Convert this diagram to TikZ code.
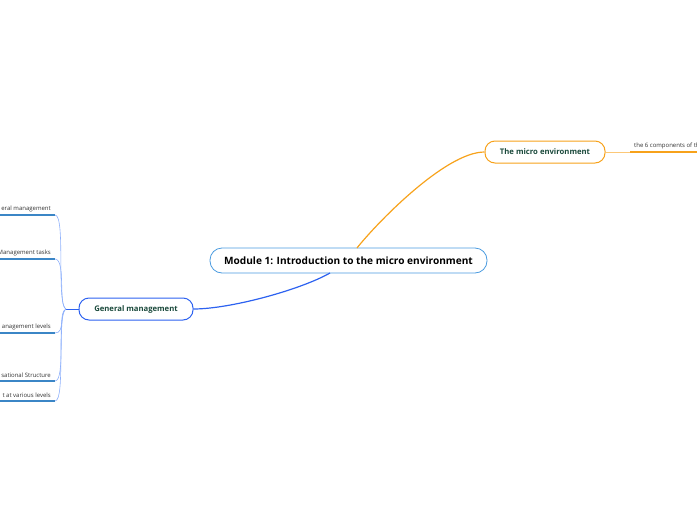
\documentclass[tikz,border=0pt]{standalone}
\usepackage{fontspec}
\setmainfont{Open Sans}
\definecolor{rootblue}{HTML}{4A9BE0}
\definecolor{gmblue}{HTML}{2D62F0}
\definecolor{microorange}{HTML}{F7A21B}
\definecolor{paleorange}{HTML}{FCC878}
\definecolor{topicgreen}{HTML}{1B4A3C}
\definecolor{leafblue}{HTML}{3B86C6}
\definecolor{twigblue}{HTML}{8FB1FB}
\definecolor{leafgray}{HTML}{333333}
\begin{document}
\begin{tikzpicture}[x=1pt,y=-1pt,
  root/.style={draw=rootblue, line width=0.8pt, rounded corners=12pt, fill=white,
    minimum width=277pt, minimum height=25pt, inner sep=0pt,
    font=\fontsize{10.1}{12}\selectfont\bfseries},
  topic/.style={draw=#1, line width=1pt, rounded corners=10pt, fill=white,
    minimum height=22pt, inner sep=0pt, text=topicgreen,
    font=\fontsize{7.7}{9}\selectfont\bfseries},
  leaf/.style={anchor=south east, inner sep=0pt, text=leafgray,
    font=\fontsize{6}{7}\selectfont},
  twig/.style={draw=twigblue, line width=0.6pt},
  underline/.style={draw=leafblue, line width=1.3pt}]
\useasboundingbox (0,0) rectangle (697,520);
\clip (0,0) rectangle (697,520);
% connectors from the root
\coordinate (rootup) at (357,248);
\coordinate (rootdown) at (330,273);
\coordinate (hub) at (66,309);
\node[root] (module) at (348.5,260.5) {Module 1: Introduction to the micro environment};
\node[topic=microorange, minimum width=120pt] (micro) at (545,152) {The micro environment};
\node[topic=gmblue, minimum width=114pt] (general) at (136,309) {General management};
\draw [microorange, line width=1.2pt] (rootup) .. controls (375,225) and (445,152) .. (micro.west);
\draw [gmblue, line width=1.2pt] (rootdown) .. controls (300,290) and (230,309) .. (general.east);
% right branch
\coordinate (r1) at (630,152);
\coordinate (r1end) at (697,152);
\draw [paleorange, line width=0.6pt] (micro.east) -- (r1);
\draw [microorange, line width=1.3pt] (r1) -- (r1end);
\node [anchor=south west, inner sep=0pt, text=leafgray, font=\fontsize{6}{7}\selectfont] (comp) at (634,149) {the 6 components of th};
% left branches
\draw [gmblue, line width=0.9pt] (general.west) -- (hub);
\coordinate (l1) at (55,215);
\coordinate (l2) at (55,259);
\coordinate (l3) at (55,333);
\coordinate (l4) at (55,381);
\coordinate (l5) at (55,401);
\draw [twig] (l1) .. controls (66,215) and (56,305) .. (hub);
\draw [twig] (l2) .. controls (66,259) and (58,305) .. (hub);
\draw [twig] (l3) .. controls (66,333) and (58,313) .. (hub);
\draw [twig] (l4) .. controls (66,381) and (57,313) .. (hub);
\draw [twig] (l5) .. controls (66,401) and (56,313) .. (hub);
\draw [underline] (0,215) -- (l1);
\draw [underline] (0,259) -- (l2);
\draw [underline] (0,333) -- (l3);
\draw [underline] (0,381) -- (l4);
\draw [underline] (0,401) -- (l5);
\node [leaf] (t1) at (51,212) {eral management};
\node [leaf] (t2) at (51,256) {Management tasks};
\node [leaf] (t3) at (51,330) {anagement levels};
\node [leaf] (t4) at (51,378) {sational Structure};
\node [leaf] (t5) at (51,398) {t at various levels};
\end{tikzpicture}
\end{document}
